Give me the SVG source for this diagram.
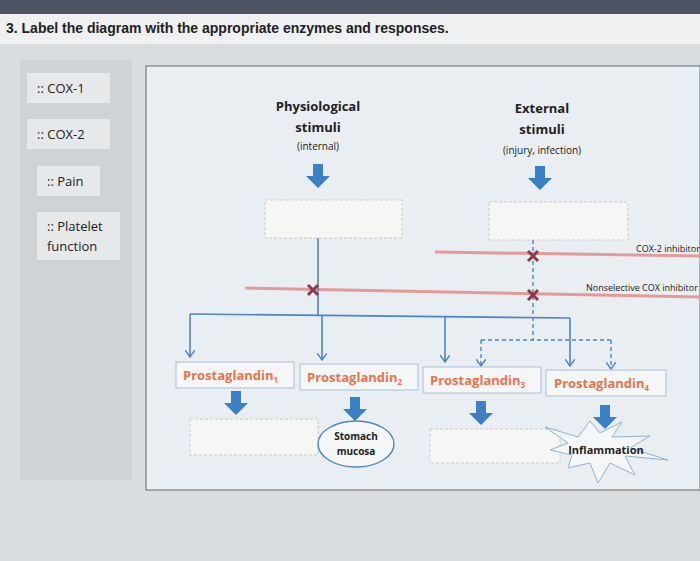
<svg xmlns="http://www.w3.org/2000/svg" width="700" height="561" viewBox="0 0 700 561">
<defs>
<style>
.t{font-family:"Open Sans","Liberation Sans",sans-serif;fill:#222}
.pg{font-family:"Open Sans","Liberation Sans",sans-serif;font-weight:bold;font-size:13px;fill:#e8744a}
.dash{fill:#f6f6f4;stroke:#c9c9c9;stroke-dasharray:3 2}
.blue{stroke:#4a86c0;stroke-width:1.6;fill:none}
.bd{stroke:#4a86c0;stroke-width:1.4;fill:none;stroke-dasharray:4 3}
.pink{stroke:#e59a98;stroke-width:3}
.pbox{fill:#f4f6f7;stroke:#a8c0d6;stroke-width:1}
.ba{fill:#3b80c3}
.x{stroke:#8b3a4a;stroke-width:3}
</style>
<marker id="ah" markerWidth="8" markerHeight="10" refX="7" refY="5" orient="auto" markerUnits="userSpaceOnUse"><path d="M0,0 L7,5 L0,10" fill="none" stroke="#4a86c0" stroke-width="1.4"/></marker>
<symbol id="barr" viewBox="0 0 24 24" overflow="visible"><path class="ba" d="M7,0 H17 V12 H24 L12,24 L0,12 H7 Z"/></symbol>
</defs>
<rect width="700" height="561" fill="#d9dde0"/>
<rect width="700" height="14" fill="#4b5563"/>
<rect x="0" y="14" width="700" height="30" fill="#eef0f1"/>
<text x="6" y="33" font-size="14" font-weight="bold" font-family="Liberation Sans,sans-serif" fill="#222">3. Label the diagram with the appropriate enzymes and responses.</text>
<rect x="20" y="60" width="112" height="420" fill="#cfd3d6"/>
<g id="bank">
<rect x="27" y="73" width="83" height="30" fill="#e6e8ea"/><text class="t" x="37" y="93" font-size="13">:: COX-1</text>
<rect x="27" y="119" width="83" height="30" fill="#e6e8ea"/><text class="t" x="37" y="139" font-size="13">:: COX-2</text>
<rect x="37" y="166" width="63" height="30" fill="#e6e8ea"/><text class="t" x="47" y="186" font-size="13">:: Pain</text>
<rect x="37" y="212" width="83" height="48" fill="#e6e8ea"/><text class="t" x="47" y="231" font-size="13">:: Platelet</text><text class="t" x="47" y="251" font-size="13">function</text>
</g>
<rect x="146" y="66" width="554" height="424" fill="#e9eef2" stroke="#666" stroke-width="1"/>
<g id="stim1"><text class="t" font-size="13" font-weight="bold" text-anchor="middle"><tspan x="318" y="111">Physiological</tspan><tspan x="318" y="132">stimuli</tspan></text><text class="t" x="318" y="150" font-size="10" text-anchor="middle">(internal)</text></g>
<g id="stim2"><text class="t" font-size="13" font-weight="bold" text-anchor="middle"><tspan x="542" y="113">External</tspan><tspan x="542" y="134">stimuli</tspan></text><text class="t" x="542" y="154" font-size="10" text-anchor="middle">(injury, infection)</text></g>
<use href="#barr" x="306" y="164" width="24" height="24"/>
<use href="#barr" x="528" y="166" width="24" height="24"/>
<g id="enz1"><rect class="dash" x="265" y="200" width="137" height="38"/></g>
<g id="enz2"><rect class="dash" x="489" y="202" width="139" height="38"/></g>
<g id="connectors">
<line class="pink" x1="435" y1="252" x2="700" y2="256"/>
<line class="pink" x1="245" y1="288" x2="700" y2="297"/>
<path class="blue" d="M318,238 V316"/>
<path class="bd" d="M533,240 V340"/>
<path class="blue" d="M190,314 L570,318"/>
<path class="blue" marker-end="url(#ah)" d="M190,314 V357"/>
<path class="blue" marker-end="url(#ah)" d="M322,316 V360"/>
<path class="blue" marker-end="url(#ah)" d="M445,317 V362"/>
<path class="blue" marker-end="url(#ah)" d="M570,318 V366"/>
<path class="bd" d="M481,340 H611"/>
<path class="bd" marker-end="url(#ah)" d="M481,340 V366"/>
<path class="bd" marker-end="url(#ah)" d="M611,340 V369"/>
<path class="x" d="M308,285 l10,10 M318,285 l-10,10 M528,251 l10,10 M538,251 l-10,10 M528,290 l10,10 M538,290 l-10,10"/>
</g>
<text class="t" x="636" y="252" font-size="9">COX-2 inhibitor</text>
<text class="t" x="586" y="291" font-size="9">Nonselective COX inhibitor</text>
<g id="pg1"><rect class="pbox" x="176" y="362" width="118" height="26"/><text class="pg" x="183" y="380">Prostaglandin<tspan font-size="8" dy="3">1</tspan></text></g>
<g id="pg2"><rect class="pbox" x="300" y="364" width="118" height="26"/><text class="pg" x="307" y="382">Prostaglandin<tspan font-size="8" dy="3">2</tspan></text></g>
<g id="pg3"><rect class="pbox" x="423" y="367" width="118" height="26"/><text class="pg" x="430" y="385">Prostaglandin<tspan font-size="8" dy="3">3</tspan></text></g>
<g id="pg4"><rect class="pbox" x="546" y="370" width="120" height="26"/><text class="pg" x="554" y="388">Prostaglandin<tspan font-size="8" dy="3">4</tspan></text></g>
<use href="#barr" x="224" y="391" width="24" height="24"/>
<use href="#barr" x="343" y="397" width="24" height="24"/>
<use href="#barr" x="469" y="401" width="24" height="24"/>
<use href="#barr" x="593" y="404" width="24" height="26"/>
<g id="resp1"><rect class="dash" x="190" y="419" width="128" height="36"/></g>
<g id="mucosa"><ellipse cx="356" cy="444" rx="38" ry="23" fill="#f4f6f7" stroke="#4a86c0" stroke-width="1.4"/><text class="t" font-size="10" font-weight="bold" text-anchor="middle"><tspan x="356" y="440">Stomach</tspan><tspan x="356" y="455">mucosa</tspan></text></g>
<g id="resp3"><rect class="dash" x="430" y="429" width="130" height="34"/></g>
<g id="inflam"><path d="M545,427 L578,437 L590,421 L600,433 L622,422 L612,437 L650,436 L630,448 L668,460 L625,456 L635,475 L610,463 L598,483 L590,463 L568,468 L572,455 L550,450 L568,443 Z" fill="#f4f6f7" stroke="#8fb4d8" stroke-width="1"/><text class="t" x="606" y="454" font-size="11" font-weight="bold" text-anchor="middle">Inflammation</text></g>
</svg>
